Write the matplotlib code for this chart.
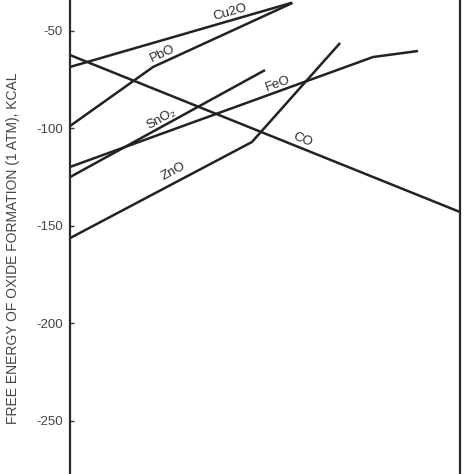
import matplotlib
matplotlib.use('Agg')
import matplotlib.pyplot as plt

# データ (温度 °C, 自由エネルギー kcal)
cu2o_t = [0, 1140]
cu2o_g = [-68.5, -35.5]

pbo_t = [0, 426, 1140]
pbo_g = [-98.8, -68.5, -35.7]

co_t = [0, 2000]
co_g = [-62.4, -142.9]

sno2_t = [0, 1000]
sno2_g = [-125.0, -70.1]

feo_t = [0, 1554, 1785]
feo_g = [-119.8, -63.4, -60.3]

zno_t = [0, 933, 1385]
zno_g = [-156.3, -107.0, -56.2]

# ラベル (テキスト, 温度, エネルギー, 角度)
labels = [
    ('Cu2O', 820, -40.6, 16),
    ('PbO', 477, -61.9, 25),
    ('SnO₂', 467, -95.2, 29),
    ('FeO', 1067, -77.2, 20),
    ('CO', 1195, -106.0, -22),
    ('ZnO', 533, -121.9, 28),
]

yticks = [-50, -100, -150, -200, -250]

plt.rcParams['font.family'] = ['Liberation Sans', 'DejaVu Sans']

fig = plt.figure(figsize=(4.74, 4.74), dpi=100)
ax = fig.add_axes([70 / 474, 0, 390 / 474, 1])

line_color = '#222222'
for t, g in [(cu2o_t, cu2o_g), (pbo_t, pbo_g), (co_t, co_g),
             (sno2_t, sno2_g), (feo_t, feo_g), (zno_t, zno_g)]:
    ax.plot(t, g, color=line_color, linewidth=1.8, solid_capstyle='butt')

for text, t, g, rot in labels:
    ax.text(t, g, text, rotation=rot, rotation_mode='anchor',
            ha='center', va='center', fontsize=9.5, color='#2a2a2a')

ax.set_xlim(0, 2000)
ax.set_ylim(-277.3, -34.15)

ax.set_yticks(yticks)
ax.set_yticklabels([str(v) for v in yticks])
ax.tick_params(axis='y', direction='in', length=3, width=1, pad=5,
               labelsize=9.5, labelcolor='#444444', color='#333333')
ax.set_xticks([])

for side in ['top', 'bottom']:
    ax.spines[side].set_visible(False)
for side in ['left', 'right']:
    ax.spines[side].set_linewidth(1.6)
    ax.spines[side].set_color('#2a2a2a')

ax.set_ylabel('FREE ENERGY OF OXIDE FORMATION (1 ATM), KCAL',
              fontsize=10, color='#444444')
ax.yaxis.set_label_coords(-0.128, 0.477)

fig.savefig('out.png', dpi=100)
